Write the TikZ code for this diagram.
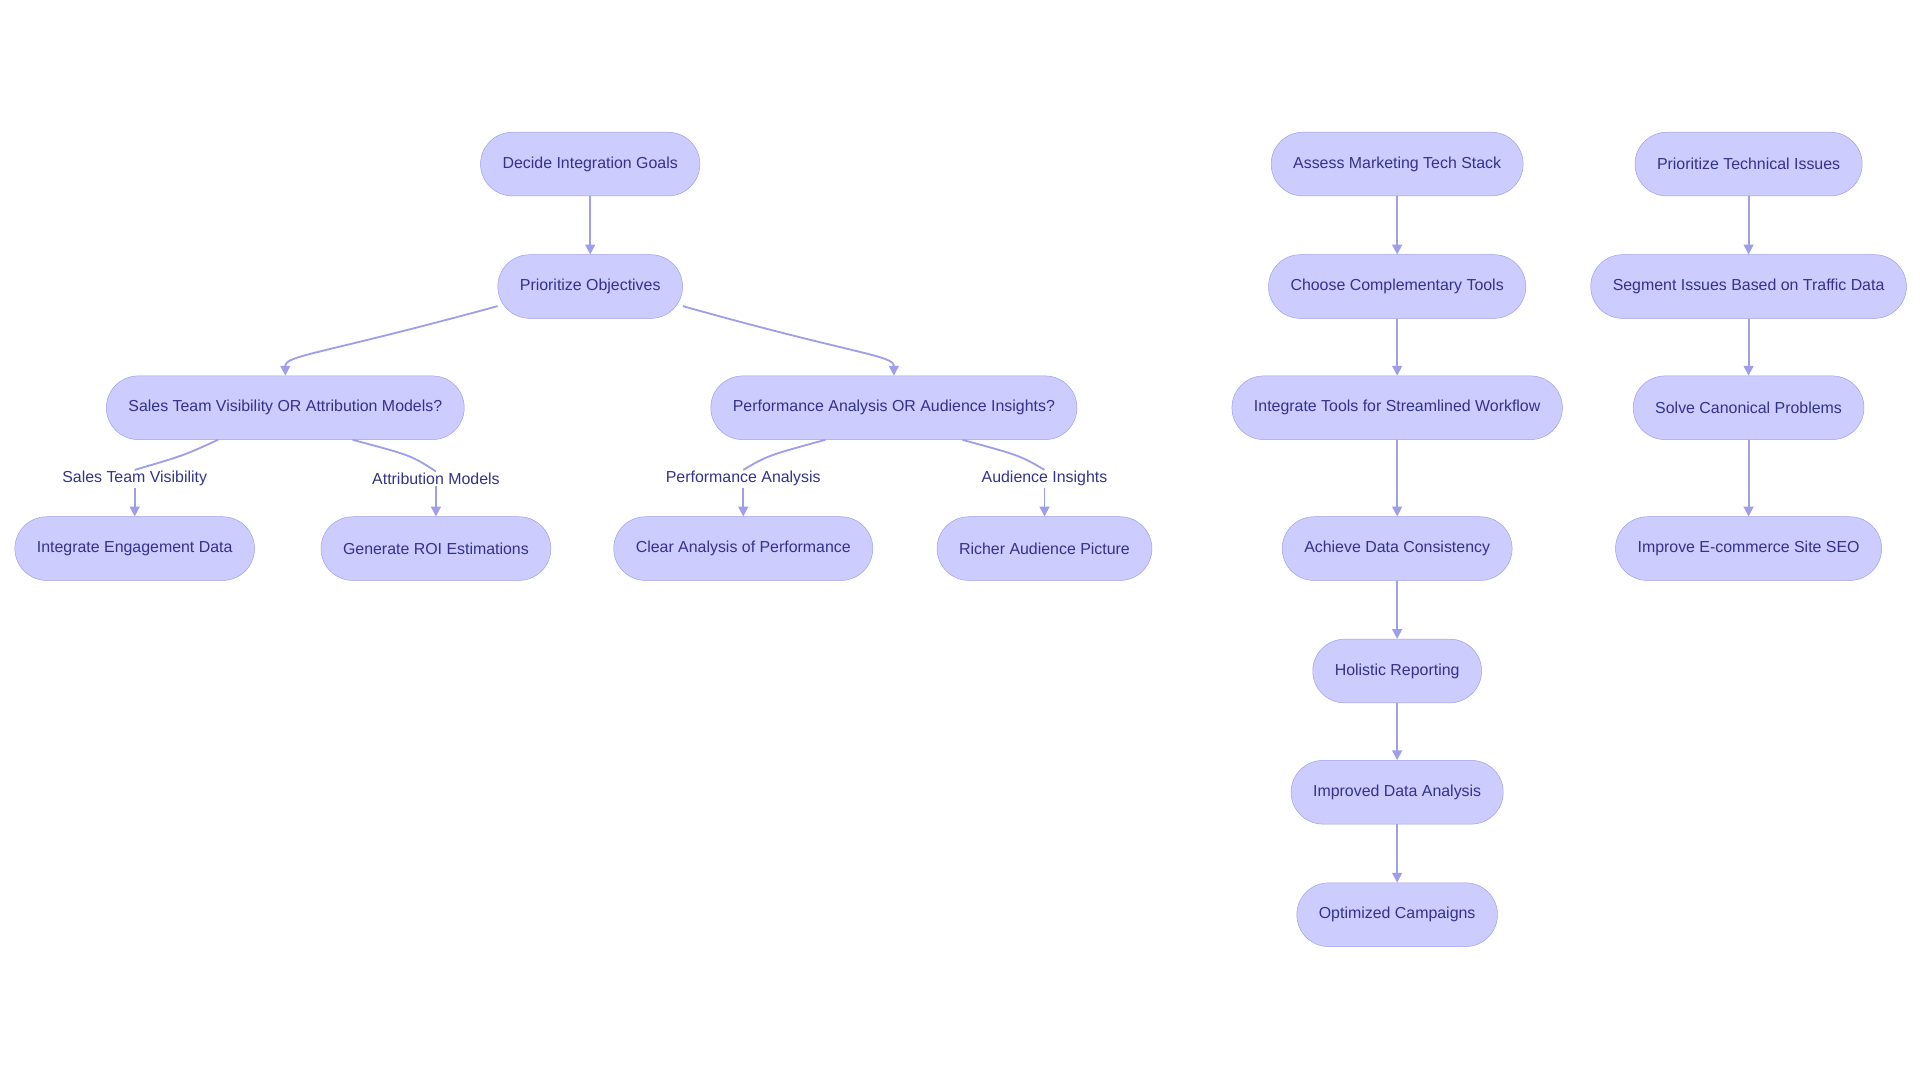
\documentclass[tikz,border=0pt]{standalone}
\usepackage{fontspec}
\setmainfont{Liberation Sans}
\usetikzlibrary{arrows.meta,positioning,calc}
\definecolor{boxfill}{HTML}{CCCCFF}
\definecolor{boxline}{HTML}{9E9EEA}
\definecolor{boxtext}{HTML}{32328C}
\tikzset{
  pill/.style={rectangle, rounded corners=26pt, draw=boxline, fill=boxfill, text=boxtext,
    minimum height=52pt, inner xsep=18pt, font=\fontsize{13}{15}\selectfont},
  link/.style={draw=boxline, line width=1.5pt, -{Triangle[length=8pt,width=8pt]}},
  lbl/.style={text=boxtext, font=\fontsize{13}{15}\selectfont, inner sep=1pt}
}
\begin{document}
\begin{tikzpicture}[x=1pt,y=-1pt]
  \useasboundingbox (0,0) rectangle (1568,882);
  % first tree
  \node[pill] (goals) at (482,134) {Decide Integration Goals};
  \node[pill] (prio) at (482,234) {Prioritize Objectives};
  \node[pill] (q1) at (233,333) {Sales Team Visibility OR Attribution Models?};
  \node[pill] (q2) at (730,333) {Performance Analysis OR Audience Insights?};
  \node[pill] (eng) at (110,448) {Integrate Engagement Data};
  \node[pill] (roi) at (356,448) {Generate ROI Estimations};
  \node[pill] (clear) at (607,448) {Clear Analysis of Performance};
  \node[pill] (rich) at (853,448) {Richer Audience Picture};
  \node[lbl] (l1) at (110,391) {Sales Team Visibility};
  \node[lbl] (l2) at (356,391) {Attribution Models};
  \node[lbl] (l3) at (607,391) {Performance Analysis};
  \node[lbl] (l4) at (853,391) {Audience Insights};
  % second column
  \node[pill] (stack) at (1141,134) {Assess Marketing Tech Stack};
  \node[pill] (tools) at (1141,234) {Choose Complementary Tools};
  \node[pill] (flow) at (1141,333) {Integrate Tools for Streamlined Workflow};
  \node[pill] (cons) at (1141,448) {Achieve Data Consistency};
  \node[pill] (holi) at (1141,548) {Holistic Reporting};
  \node[pill] (anal) at (1141,647) {Improved Data Analysis};
  \node[pill] (camp) at (1141,747) {Optimized Campaigns};
  % third column
  \node[pill] (tech) at (1428,134) {Prioritize Technical Issues};
  \node[pill] (seg) at (1428,234) {Segment Issues Based on Traffic Data};
  \node[pill] (canon) at (1428,333) {Solve Canonical Problems};
  \node[pill] (seo) at (1428,448) {Improve E-commerce Site SEO};

  \draw[link] (goals) -- (prio);
  \draw[link] ($(prio.west)+(0,16)$) .. controls (260,290) and (233,290) .. (q1.north);
  \draw[link] ($(prio.east)+(0,16)$) .. controls (700,290) and (730,290) .. (q2.north);
  \draw[boxline, line width=1.5pt] ($(q1.south)+(-55,0)$) .. controls (150,372) .. (l1.north);
  \draw[link] (l1.south) .. controls (110,402) .. (eng.north);
  \draw[boxline, line width=1.5pt] ($(q1.south)+(55,0)$) .. controls (336,372) .. (l2.north);
  \draw[link] (l2.south) .. controls (356,402) .. (roi.north);
  \draw[boxline, line width=1.5pt] ($(q2.south)+(-56,0)$) .. controls (627,372) .. (l3.north);
  \draw[link] (l3.south) .. controls (607,402) .. (clear.north);
  \draw[boxline, line width=1.5pt] ($(q2.south)+(56,0)$) .. controls (833,372) .. (l4.north);
  \draw[link] (l4.south) .. controls (853,402) .. (rich.north);

  \draw[link] (stack) -- (tools);
  \draw[link] (tools) -- (flow);
  \draw[link] (flow) -- (cons);
  \draw[link] (cons) -- (holi);
  \draw[link] (holi) -- (anal);
  \draw[link] (anal) -- (camp);

  \draw[link] (tech) -- (seg);
  \draw[link] (seg) -- (canon);
  \draw[link] (canon) -- (seo);
\end{tikzpicture}
\end{document}
